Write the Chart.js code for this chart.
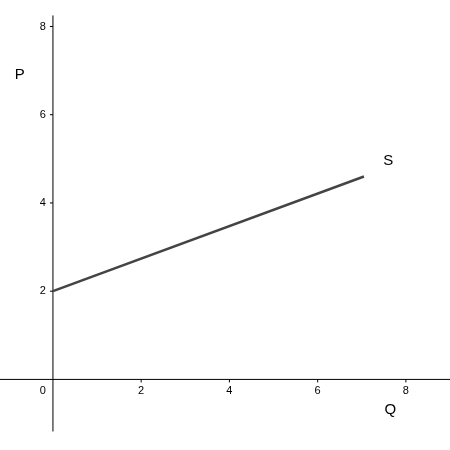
<!DOCTYPE html>
<html>
<head>
<script src="https://cdn.jsdelivr.net/npm/chart.js@4"></script>
<style>
  html, body { margin: 0; padding: 0; background: #fff; }
  #wrap { width: 450px; height: 450px; }
</style>
</head>
<body>
<div id="wrap"><canvas id="chart"></canvas></div>
<script>
// supply line S: P against Q
const supplyQ = [0, 7.05];
const supplyP = [2, 4.6];
const xTicks = [2, 4, 6, 8];
const yTicks = [2, 4, 6, 8];
const curveLabel = "S";
const xTitle = "Q";
const yTitle = "P";

// draws the axes through the origin, like a geometry plot
const axesPlugin = {
  id: "axesPlugin",
  beforeDatasetsDraw(chart) {
    const { ctx, scales: { x, y } } = chart;
    const x0 = x.getPixelForValue(0);
    const y0 = y.getPixelForValue(0);
    ctx.save();
    ctx.strokeStyle = "#000";
    ctx.lineWidth = 1;
    ctx.beginPath();
    ctx.moveTo(x.left, y0);
    ctx.lineTo(x.right, y0);
    ctx.moveTo(x0, y.getPixelForValue(8.25));
    ctx.lineTo(x0, y.getPixelForValue(-1.18));
    ctx.stroke();

    ctx.fillStyle = "#000";
    ctx.font = "11px 'Liberation Sans', Arial, sans-serif";
    ctx.textAlign = "center";
    ctx.textBaseline = "middle";
    xTicks.forEach((v) => {
      const px = x.getPixelForValue(v);
      ctx.beginPath();
      ctx.moveTo(px, y0);
      ctx.lineTo(px, y0 + 3);
      ctx.stroke();
      ctx.fillText(String(v), px, y0 + 12);
    });
    ctx.textAlign = "right";
    yTicks.forEach((v) => {
      const py = y.getPixelForValue(v);
      ctx.beginPath();
      ctx.moveTo(x0, py);
      ctx.lineTo(x0 - 3, py);
      ctx.stroke();
      ctx.fillText(String(v), x0 - 7, py);
    });
    ctx.fillText("0", x0 - 7, y0 + 12);

    ctx.font = "15px 'Liberation Sans', Arial, sans-serif";
    ctx.textAlign = "center";
    ctx.fillText(yTitle, x.getPixelForValue(-0.75), y.getPixelForValue(6.9));
    ctx.fillText(xTitle, x.getPixelForValue(7.65), y.getPixelForValue(-0.7));
    ctx.fillText(curveLabel, x.getPixelForValue(7.6), y.getPixelForValue(4.95));
    ctx.restore();
  },
};

new Chart(document.getElementById("chart"), {
  type: "scatter",
  data: {
    datasets: [
      {
        label: curveLabel,
        data: supplyQ.map((q, i) => ({ x: q, y: supplyP[i] })),
        showLine: true,
        borderColor: "#444444",
        borderWidth: 2.5,
        pointRadius: 0,
        fill: false,
      },
    ],
  },
  options: {
    responsive: true,
    maintainAspectRatio: false,
    animation: false,
    layout: { padding: 0 },
    plugins: { legend: { display: false }, tooltip: { enabled: false } },
    scales: {
      x: { type: "linear", min: -1.2, max: 9.0, display: false },
      y: { type: "linear", min: -1.6, max: 8.6, display: false },
    },
  },
  plugins: [axesPlugin],
});
</script>
</body>
</html>
